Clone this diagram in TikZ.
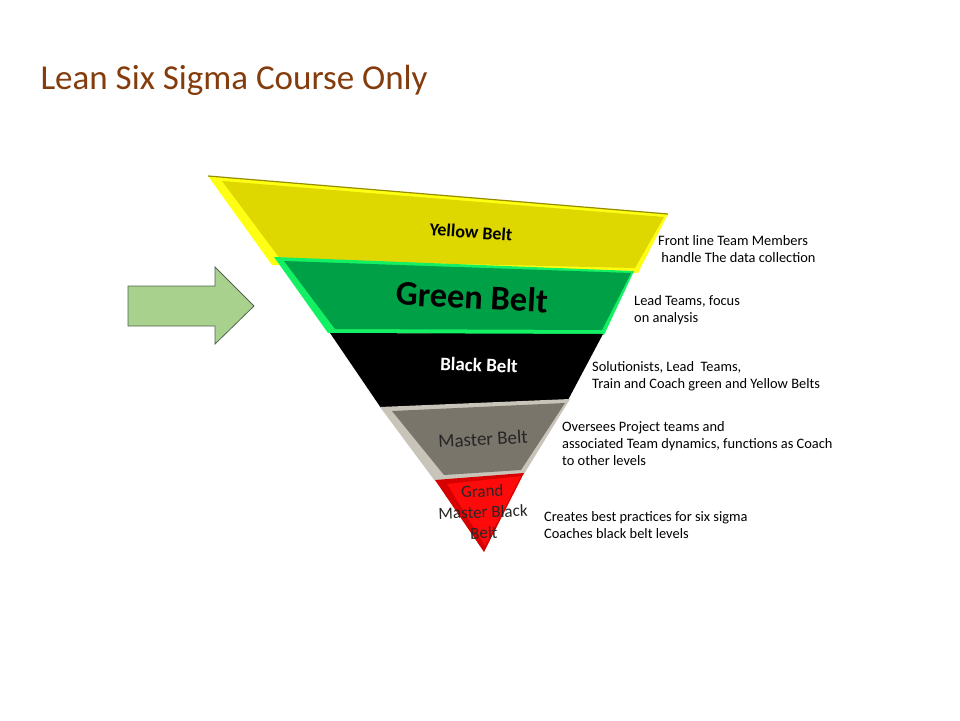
\documentclass[tikz,border=0pt]{standalone}
\usepackage{fontspec}
\setmainfont{Carlito}
\definecolor{titlebrown}{RGB}{132,60,12}
\definecolor{yface}{RGB}{222,216,0}
\definecolor{ybevel}{RGB}{255,255,20}
\definecolor{yedge}{RGB}{150,140,0}
\definecolor{gface}{RGB}{0,160,70}
\definecolor{gbevel}{RGB}{20,240,100}
\definecolor{mface}{RGB}{122,117,107}
\definecolor{mbevel}{RGB}{200,196,186}
\definecolor{rface}{RGB}{255,10,10}
\definecolor{rbevel}{RGB}{215,0,0}
\definecolor{arrowfill}{RGB}{169,209,142}
\definecolor{arrowline}{RGB}{80,100,80}
\tikzstyle{beltname}=[inner sep=0pt,align=center,font=\bfseries]
\tikzstyle{desc}=[anchor=north west,inner sep=0pt,align=left,font=\fontsize{14.4}{17}\selectfont]

\begin{document}
\begin{tikzpicture}[x=1pt,y=-1pt]
    \useasboundingbox[fill=white] (0,0) rectangle (960,720);
    \node[anchor=west,text=titlebrown,font=\fontsize{35}{40}\selectfont] (title) at (37,80) {Lean Six Sigma Course Only};

    % yellow belt
    \fill[ybevel] (208,176) -- (668,214) -- (638,273) -- (272,265) -- cycle;
    \fill[yface] (222,181) -- (664,217) -- (635,268) -- (281,260) -- cycle;
    \draw[yedge,line width=1.2] (208,176) -- (668,214);
    \node[beltname,font=\bfseries\fontsize{18}{20}\selectfont,rotate=-4] (yellow) at (471,232) {Yellow Belt};

    % green belt
    \fill[gbevel] (274,257) -- (634,271) -- (604,335) -- (328,333) -- cycle;
    \fill[gface] (284,261) -- (631,273) -- (602,330) -- (335,329) -- cycle;
    \node[beltname,font=\bfseries\fontsize{34.5}{36}\selectfont,rotate=-3] (green) at (472,297) {Green Belt};

    % black belt
    \fill[black] (330,333) -- (603,334) -- (568,400) -- (381,408) -- cycle;
    \node[beltname,text=white,font=\bfseries\fontsize{19}{21}\selectfont,rotate=-2] (blackb) at (479,365) {Black Belt};

    % master belt
    \fill[mbevel] (380,407) -- (570,399) -- (524,474) -- (435,481) -- cycle;
    \fill[mface] (392,411) -- (565,403) -- (521,470) -- (444,475) -- cycle;
    \node[beltname,font=\fontsize{19}{21}\selectfont,text=black!85,rotate=3] (master) at (483,439) {Master Belt};

    % grand master black belt
    \fill[rbevel] (435,480) -- (524,473) -- (484,552) -- cycle;
    \fill[rface] (447,484) -- (521,476) -- (485,546) -- cycle;
    \node[beltname,font=\fontsize{17}{21}\selectfont,text=black!85,rotate=2] (grand) at (483,512) {Grand\\Master Black\\Belt};

    % arrow
    \coordinate (a1) at (128,286);
    \coordinate (a2) at (215,286);
    \coordinate (a3) at (215,267);
    \coordinate (a4) at (254,306);
    \coordinate (a5) at (215,344);
    \coordinate (a6) at (215,326);
    \coordinate (a7) at (128,326);
    \draw[fill=arrowfill,draw=arrowline,line width=0.8] (a1) -- (a2) -- (a3) -- (a4) -- (a5) -- (a6) -- (a7) -- cycle;

    % descriptions
    \node[desc] (dyellow) at (658,235) {Front line Team Members\\\ handle The data collection};
    \node[desc] (dgreen) at (634,295) {Lead Teams, focus\\on analysis};
    \node[desc] (dblack) at (592,361) {Solutionists, Lead\ \ Teams,\\Train and Coach green and Yellow Belts};
    \node[desc] (dmaster) at (562,421) {Oversees Project teams and\\associated Team dynamics, functions as Coach\\to other levels};
    \node[desc] (dgrand) at (544,511) {Creates best practices for six sigma\\Coaches black belt levels};
\end{tikzpicture}
\end{document}
